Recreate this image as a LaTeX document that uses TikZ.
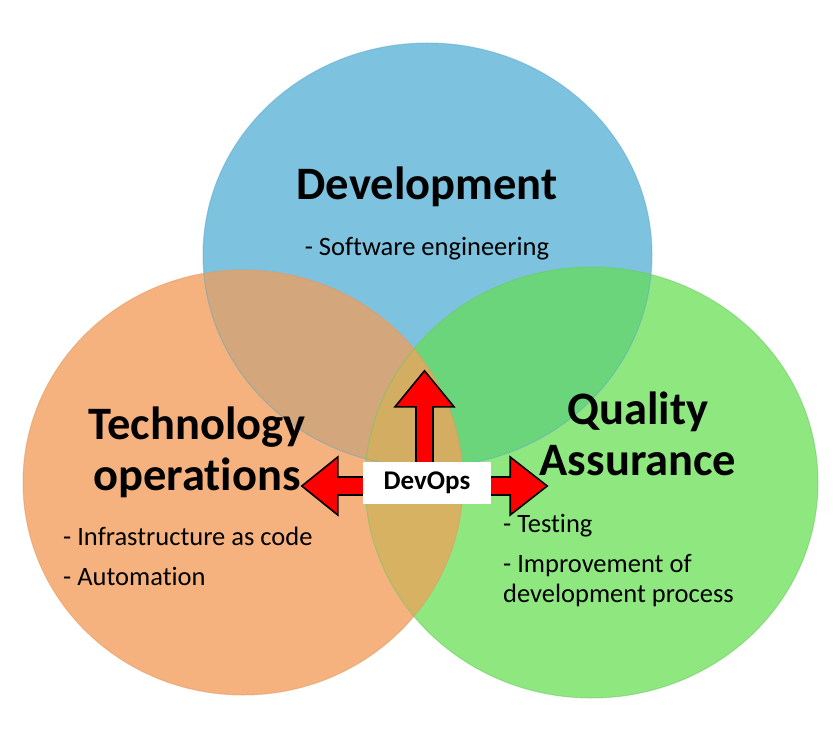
\documentclass[tikz,border=0pt]{standalone}
\usepackage{fontspec}
\setmainfont{Carlito}[Ligatures=NoCommon]
\usetikzlibrary{positioning}
\definecolor{dblue}{HTML}{7DC3DF}
\definecolor{dorange}{HTML}{F5B27F}
\definecolor{dgreen}{HTML}{8EE77F}
\definecolor{dbo}{HTML}{D3A67B}
\definecolor{dbg}{HTML}{6BD57C}
\definecolor{dog}{HTML}{D8B263}
\definecolor{dbog}{HTML}{D3AD62}
\definecolor{rimblue}{HTML}{5FA9C8}
\definecolor{rimorange}{HTML}{DE9A62}
\definecolor{rimgreen}{HTML}{6CC863}
\def\devdisc{(427.5,255) ellipse [x radius=224.5, y radius=212]}
\def\opsdisc{(243,482.5) ellipse [x radius=220, y radius=212.5]}
\def\qadisc{(591.5,482.5) ellipse [x radius=226.5, y radius=215.5]}
\tikzstyle{heading} = [font=\fontsize{46.5}{50.5}\selectfont\bfseries, align=center, inner sep=0]
\tikzstyle{items} = [font=\fontsize{26.5}{30}\selectfont, align=left, inner sep=0]
\tikzstyle{hub} = [rectangle, fill=white, minimum width=128pt, minimum height=42pt, inner sep=0, font=\fontsize{27}{30}\selectfont\bfseries]
\tikzstyle{bolt} = [fill=red, draw=black, line width=1.6pt, line join=miter]
\tikzstyle{rim} = [line width=1pt, opacity=0.5]
\begin{document}
\begin{tikzpicture}[x=1pt, y=-1pt]
  \fill[white] (0,0) rectangle (840,735);
  \useasboundingbox (0,0) rectangle (840,735);
  \fill[dblue] \devdisc;
  \fill[dorange] \opsdisc;
  \fill[dgreen] \qadisc;
  \begin{scope}
    \clip \devdisc;
    \fill[dbo] \opsdisc;
    \fill[dbg] \qadisc;
  \end{scope}
  \begin{scope}
    \clip \opsdisc;
    \fill[dog] \qadisc;
  \end{scope}
  \begin{scope}
    \clip \devdisc;
    \clip \opsdisc;
    \fill[dbog] \qadisc;
  \end{scope}
  \draw[rim, rimblue] \devdisc;
  \draw[rim, rimorange] \opsdisc;
  \draw[rim, rimgreen] \qadisc;
  \node (devtitle) [heading, anchor=base] at (427,200) {Development};
  \node (devlist) [items, anchor=base] at (427,255) {- Software engineering};
  \node (opstitle) [heading, anchor=base] at (197,490) {Technology\\operations};
  \node (opslist) [items, anchor=base west] at (63,585) {- Infrastructure as code\\[10pt]- Automation};
  \node (qatitle) [heading, anchor=base] at (638,475) {Quality\\Assurance};
  \node (qalist) [items, anchor=base west] at (503,602) {- Testing\\[10pt]- Improvement of\\development process};
  \node (devops) [hub] at (427,483) {DevOps};
  \draw [bolt] ([shift={(-11,0)}]devops.north) -- ++(0,-55) -- ++(-21,0) -- ++(29.5,-36) -- ++(29.5,36) -- ++(-21,0) -- ([shift={(6,0)}]devops.north);
  \draw [bolt] ([shift={(0,-6)}]devops.west) -- ++(-25,0) -- ++(0,-20) -- ++(-36,29) -- ++(36,29) -- ++(0,-20) -- ([shift={(0,12)}]devops.west);
  \draw [bolt] ([shift={(0,-6)}]devops.east) -- ++(19,0) -- ++(0,-20) -- ++(37,29) -- ++(-37,29) -- ++(0,-20) -- ([shift={(0,12)}]devops.east);
\end{tikzpicture}
\end{document}
